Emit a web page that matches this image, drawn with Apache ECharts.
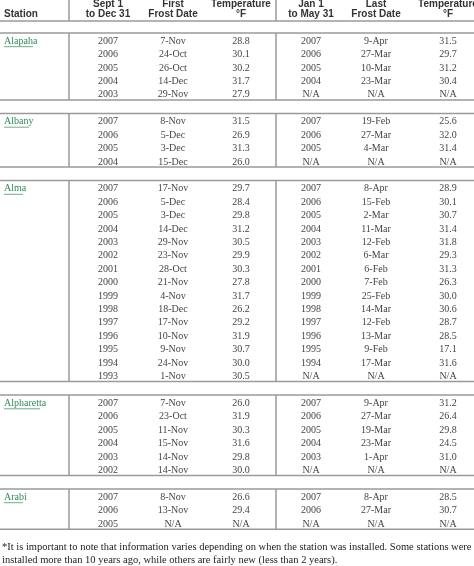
<!DOCTYPE html>
<html>
<head>
<meta charset="utf-8">
<script src="https://cdn.jsdelivr.net/npm/echarts@6/dist/echarts.min.js"></script>
<style>html,body{margin:0;padding:0;background:#fff}#main{width:474px;height:566px}</style>
</head>
<body>
<div id="main"></div>
<script>
// table data, one small array per thing
const headers = [['Sept 1', 'to Dec 31'], ['First', 'Frost Date'], ['Temperature', '°F'],
  ['Jan 1', 'to May 31'], ['Last', 'Frost Date'], ['Temperature', '°F']];
const stations = ['Alapaha', 'Albany', 'Alma', 'Alpharetta', 'Arabi'];
const fallYears = [
  ['2007', '2006', '2005', '2004', '2003'],
  ['2007', '2006', '2005', '2004'],
  ['2007', '2006', '2005', '2004', '2003', '2002', '2001', '2000', '1999', '1998', '1997', '1996', '1995', '1994', '1993'],
  ['2007', '2006', '2005', '2004', '2003', '2002'],
  ['2007', '2006', '2005']
];
const firstFrost = [
  ['7-Nov', '24-Oct', '26-Oct', '14-Dec', '29-Nov'],
  ['8-Nov', '5-Dec', '3-Dec', '15-Dec'],
  ['17-Nov', '5-Dec', '3-Dec', '14-Dec', '29-Nov', '23-Nov', '28-Oct', '21-Nov', '4-Nov', '18-Dec', '17-Nov', '10-Nov', '9-Nov', '24-Nov', '1-Nov'],
  ['7-Nov', '23-Oct', '11-Nov', '15-Nov', '14-Nov', '14-Nov'],
  ['8-Nov', '13-Nov', 'N/A']
];
const fallTemp = [
  ['28.8', '30.1', '30.2', '31.7', '27.9'],
  ['31.5', '26.9', '31.3', '26.0'],
  ['29.7', '28.4', '29.8', '31.2', '30.5', '29.9', '30.3', '27.8', '31.7', '26.2', '29.2', '31.9', '30.7', '30.0', '30.5'],
  ['26.0', '31.9', '30.3', '31.6', '29.8', '30.0'],
  ['26.6', '29.4', 'N/A']
];
const springYears = [
  ['2007', '2006', '2005', '2004', 'N/A'],
  ['2007', '2006', '2005', 'N/A'],
  ['2007', '2006', '2005', '2004', '2003', '2002', '2001', '2000', '1999', '1998', '1997', '1996', '1995', '1994', 'N/A'],
  ['2007', '2006', '2005', '2004', '2003', 'N/A'],
  ['2007', '2006', 'N/A']
];
const lastFrost = [
  ['9-Apr', '27-Mar', '10-Mar', '23-Mar', 'N/A'],
  ['19-Feb', '27-Mar', '4-Mar', 'N/A'],
  ['8-Apr', '15-Feb', '2-Mar', '11-Mar', '12-Feb', '6-Mar', '6-Feb', '7-Feb', '25-Feb', '14-Mar', '12-Feb', '13-Mar', '9-Feb', '17-Mar', 'N/A'],
  ['9-Apr', '27-Mar', '19-Mar', '23-Mar', '1-Apr', 'N/A'],
  ['8-Apr', '27-Mar', 'N/A']
];
const springTemp = [
  ['31.5', '29.7', '31.2', '30.4', 'N/A'],
  ['25.6', '32.0', '31.4', 'N/A'],
  ['28.9', '30.1', '30.7', '31.4', '31.8', '29.3', '31.3', '26.3', '30.0', '30.6', '28.7', '28.5', '17.1', '31.6', 'N/A'],
  ['31.2', '26.4', '29.8', '24.5', '31.0', 'N/A'],
  ['28.5', '30.7', 'N/A']
];
const footnote = ['*It is important to note that information varies depending on when the station was installed. Some stations were',
  'installed more than 10 years ago, while others are fairly new (less than 2 years).'];

let instance = echarts.init(document.getElementById('main'));
const colX = [108, 173, 241, 311, 376, 448];
const rowH = 13.4;
const lineCol = '#9a9a9a';
const bodyFont = '10px "Liberation Serif", "DejaVu Serif", serif';
const headFont = 'bold 10px "Liberation Sans", Arial, sans-serif';
let els = [];

function hline(y, x1, x2) {
  els.push({ type: 'line', shape: { x1: x1, y1: y, x2: x2, y2: y }, style: { stroke: lineCol, lineWidth: 1.5 } });
}
function vline(x, y1, y2) {
  els.push({ type: 'line', shape: { x1: x, y1: y1, x2: x, y2: y2 }, style: { stroke: lineCol, lineWidth: 1.5 } });
}
function txt(s, x, y, font, fill, align) {
  els.push({ type: 'text', style: { text: s, x: x, y: y, font: font, fill: fill, align: align || 'center', verticalAlign: 'middle' } });
}

// header
txt('Station', 4, 14, headFont, '#333', 'left');
headers.forEach((h, i) => {
  txt(h[0], colX[i], 4, headFont, '#333');
  txt(h[1], colX[i], 14, headFont, '#333');
});
vline(69, 0, 21);
vline(276, 0, 21);
hline(21, 0, 474);

// sections
const linkW = [29, 25, 19, 36, 19];
let secTop = 33;
stations.forEach((name, s) => {
  const n = fallYears[s].length;
  const bottom = secTop + n * rowH;
  hline(secTop, 0, 474);
  hline(bottom, 0, 474);
  vline(69, secTop, bottom);
  vline(276, secTop, bottom);
  txt(name, 4, secTop + rowH / 2 + 1.5, bodyFont, '#2e8b57', 'left');
  const uy = secTop + rowH / 2 + 7;
  els.push({ type: 'line', shape: { x1: 4, y1: uy, x2: 4 + linkW[s], y2: uy }, style: { stroke: '#2e8b57', lineWidth: 0.7 } });
  const cols = [fallYears[s], firstFrost[s], fallTemp[s], springYears[s], lastFrost[s], springTemp[s]];
  for (let r = 0; r < n; r++) {
    const y = secTop + (r + 0.5) * rowH + 1.5;
    cols.forEach((c, i) => txt(c[r], colX[i], y, bodyFont, '#444'));
  }
  secTop = bottom + 13.5;
});

txt(footnote[0], 2, 547, '10.5px "Liberation Serif", serif', '#222', 'left');
txt(footnote[1], 2, 560, '10.5px "Liberation Serif", serif', '#222', 'left');

instance.setOption({ animation: false, graphic: { elements: els } });
window.onresize = () => {
  instance.resize();
};
</script>
</body>
</html>
